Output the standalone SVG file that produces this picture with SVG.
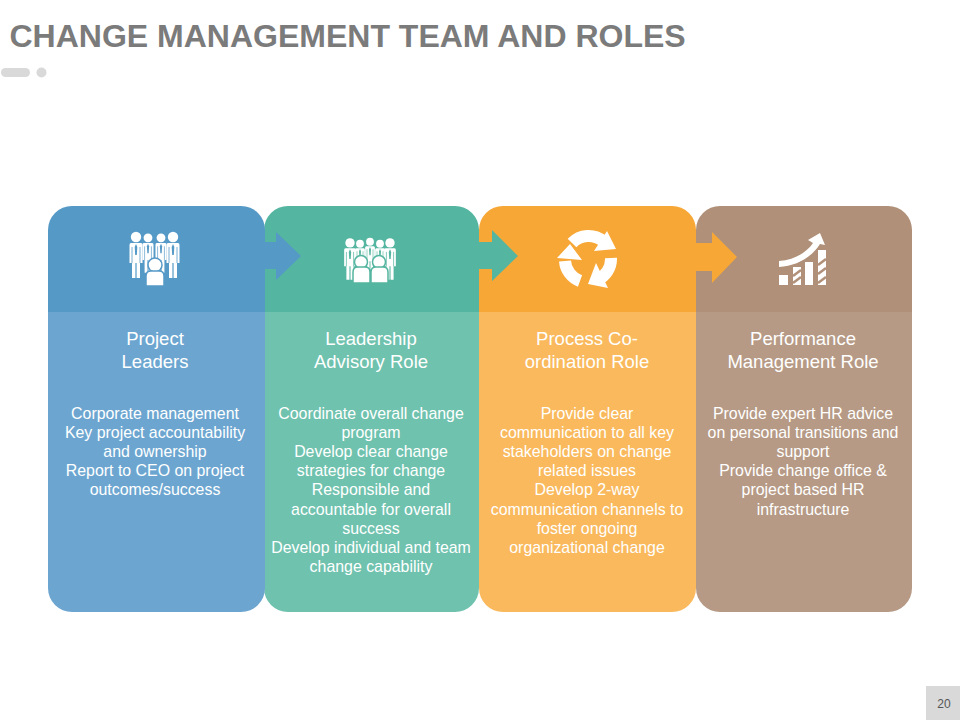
<svg xmlns="http://www.w3.org/2000/svg" width="960" height="720" viewBox="0 0 960 720">
<style>
text{font-family:"Liberation Sans",Arial,sans-serif;text-anchor:middle}
.t{font-weight:bold;font-size:32px;fill:#7b7b7b;text-anchor:start}
.h{font-size:18.5px;fill:#fff}
.b{font-size:15.9px;fill:#fff}
.i{fill:#fff}
.r{fill:none;stroke:#fff;stroke-width:12}
</style>
<defs>
<g id="man"><circle cx="0" cy="-19" r="5.200"/><path d="M-5-13H5Q6.500-13 6.500-11V7H4V22H.6V7H-.6V22H-4V7H-6.500V-11Q-6.500-13-5-13Z"/><path d="M0-12L1.300-9 .8-1H-.8L-1.300-9Z" fill="currentColor"/><path d="M-4-9V7M4-9V7" stroke="currentColor" stroke-width=".8" fill="none"/></g>
</defs>
<rect width="960" height="720" fill="#fff"/>
<g id="title"><text class="t" x="9.500" y="47">CHANGE MANAGEMENT TEAM AND ROLES</text>
<rect x="1" y="68" width="29" height="9" rx="4.500" fill="#d9d9d9"/><circle cx="41.500" cy="72.500" r="5" fill="#d9d9d9"/></g>
<g id="panel-brown">
<path d="M696 312V230a24 24 0 0 1 24-24H888a24 24 0 0 1 24 24V312Z" fill="#b09078"/>
<path d="M696 312H912V588a24 24 0 0 1-24 24H720a24 24 0 0 1-24-24Z" fill="#b69a85"/>
<path class="i" d="M779 261C795 260 807 252 813 243L808 240 820 233 825 245 820 244C811 258 796 266 779 267ZM779 275h9v10h-9ZM793 267h8v18h-8ZM805 262h8v23h-8ZM818 250h8v35h-8Z"/>
<path d="M793 283L801 277M793 276L801 270M818 283L826 277M818 274L826 268M818 265L826 259" stroke="#b09078" stroke-width="2.500" fill="none"/>
<text class="h" x="803" y="345">Performance</text><text class="h" x="803" y="368">Management Role</text>
<text class="b" x="803" y="419">Provide expert HR advice</text><text class="b" x="803" y="438">on personal transitions and</text><text class="b" x="803" y="457">support</text><text class="b" x="803" y="476">Provide change office &amp;</text><text class="b" x="803" y="495">project based HR</text><text class="b" x="803" y="515">infrastructure</text>
</g>
<g id="panel-orange">
<path d="M479 312V230a24 24 0 0 1 24-24H672a24 24 0 0 1 24 24V312Z" fill="#f7a736"/>
<path d="M479 312H696V588a24 24 0 0 1-24 24H503a24 24 0 0 1-24-24Z" fill="#f9b95c"/>
<path d="M696 243H712V232L737 257 712 283V271H696Z" fill="#f7a736"/>
<path class="r" d="M572 243A23 23 0 0 1 603 241M611 258A23 23 0 0 1 597 280M580 281A23 23 0 0 1 565 261"/>
<path class="i" d="M607 231L616 249 594 251ZM596 263L608 288 588 284ZM557 258L570 244 582 260Z"/>
<text class="h" x="587" y="345">Process Co-</text><text class="h" x="587" y="368">ordination Role</text>
<text class="b" x="587" y="419">Provide clear</text><text class="b" x="587" y="438">communication to all key</text><text class="b" x="587" y="457">stakeholders on change</text><text class="b" x="587" y="476">related issues</text><text class="b" x="587" y="495">Develop 2-way</text><text class="b" x="587" y="515">communication channels to</text><text class="b" x="587" y="534">foster ongoing</text><text class="b" x="587" y="553">organizational change</text>
</g>
<g id="panel-green">
<path d="M264 312V230a24 24 0 0 1 24-24H455a24 24 0 0 1 24 24V312Z" fill="#54b5a0"/>
<path d="M264 312H479V588a24 24 0 0 1-24 24H288a24 24 0 0 1-24-24Z" fill="#6fc2ae"/>
<path d="M479 242H492V230L518 256 492 281V269H479Z" fill="#54b5a0"/>
<g class="i" color="#54b5a0"><use href="#man" transform="translate(370 256) scale(.75)"/><use href="#man" transform="translate(360 258) scale(.75)"/><use href="#man" transform="translate(380 258) scale(.75)"/><use href="#man" transform="translate(350 260) scale(.9)"/><use href="#man" transform="translate(390 260) scale(.9)"/>
<g stroke="#54b5a0" stroke-width="1.500"><circle cx="361" cy="262" r="6.500"/><circle cx="379" cy="262" r="6.500"/><path d="M353 272q0-5 5-5h7q5 0 5 5v11h-17ZM371 272q0-5 5-5h7q5 0 5 5v11h-17Z"/></g></g>
<text class="h" x="371" y="345">Leadership</text><text class="h" x="371" y="368">Advisory Role</text>
<text class="b" x="371" y="419">Coordinate overall change</text><text class="b" x="371" y="438">program</text><text class="b" x="371" y="457">Develop clear change</text><text class="b" x="371" y="476">strategies for change</text><text class="b" x="371" y="495">Responsible and</text><text class="b" x="371" y="515">accountable for overall</text><text class="b" x="371" y="534">success</text><text class="b" x="371" y="553">Develop individual and team</text><text class="b" x="371" y="572">change capability</text>
</g>
<g id="panel-blue">
<path d="M48 312V230a24 24 0 0 1 24-24H241a24 24 0 0 1 24 24V312Z" fill="#5599c7"/>
<path d="M48 312H265V588a24 24 0 0 1-24 24H72a24 24 0 0 1-24-24Z" fill="#6ca6d0"/>
<path d="M264 242H276V232L301 256 276 280V269H264Z" fill="#5599c7"/>
<g class="i" color="#5599c7"><use href="#man" transform="translate(148 254) scale(.85)"/><use href="#man" transform="translate(161 254) scale(.85)"/><use href="#man" transform="translate(136 256)"/><use href="#man" transform="translate(173 256)"/>
<g stroke="#5599c7" stroke-width="1.500"><circle cx="155" cy="265" r="7"/><path d="M146 276q0-5 5-5h8q5 0 5 5v10h-18Z"/></g></g>
<text class="h" x="155" y="345">Project</text><text class="h" x="155" y="368">Leaders</text>
<text class="b" x="155" y="419">Corporate management</text><text class="b" x="155" y="438">Key project accountability</text><text class="b" x="155" y="457">and ownership</text><text class="b" x="155" y="476">Report to CEO on project</text><text class="b" x="155" y="495">outcomes/success</text>
</g>
<g id="page"><rect x="926" y="686" width="34" height="34" fill="#d9d9d9"/><text x="944" y="708" font-size="12" fill="#555">20</text></g>
</svg>
